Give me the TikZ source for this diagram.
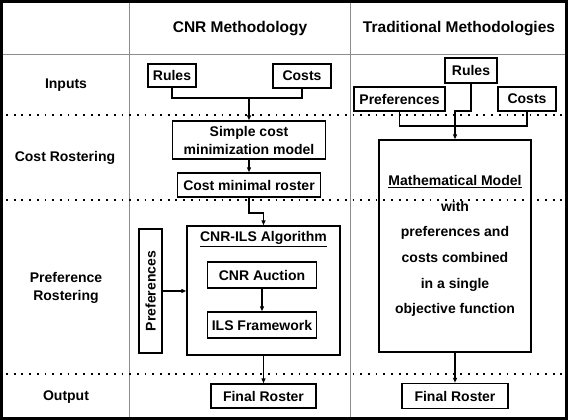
\documentclass[tikz,border=0pt]{standalone}
\usepackage{fontspec}
\setmainfont{Liberation Sans}
\usetikzlibrary{positioning,calc,arrows.meta}
\definecolor{gridgray}{HTML}{8C8C8C}

\begin{document}
\begin{tikzpicture}[x=1pt,y=-1pt,font=\fontsize{14}{18}\selectfont\bfseries,
    bx/.style={draw,line width=1.5pt,inner sep=2pt,align=center},
    arr/.style={line width=1.6pt,-{Triangle[length=5pt,width=4pt]}},
    ln/.style={line width=1.6pt},
    sep/.style={line width=1.8pt,dash pattern=on 1.8pt off 5.9pt},
    col/.style={draw=gridgray,line width=1.2pt}]
    \useasboundingbox (0,0) rectangle (568,420);
    \draw[col] (129.5,2) -- (129.5,418) (350.5,2) -- (350.5,418) (2,54.5) -- (566,54.5);
    \draw[sep] (6,115) -- (566,115) (6,200) -- (566,200) (6,374) -- (566,374);
    \draw[line width=2.5pt] (1.5,1.5) rectangle (566.5,418.5);
    \node[font=\fontsize{15.5}{19}\selectfont\bfseries] (hcnr) at (240,29) {CNR Methodology};
    \node[font=\fontsize{15.5}{19}\selectfont\bfseries] (htrad) at (459,29) {Traditional Methodologies};
    \node (lin) at (66,85) {Inputs};
    \node (lcost) at (65,158) {Cost Rostering};
    \node[align=center] (lpref) at (66,288) {Preference\\Rostering};
    \node (lout) at (66,397) {Output};
    \node[bx,minimum width=48pt,minimum height=23pt] (rulesA) at (172,75.5) {Rules};
    \node[bx,minimum width=58pt,minimum height=24pt] (costsA) at (302,76) {Costs};
    \node[bx,minimum width=153pt,minimum height=38pt] (simple) at (249,140) {Simple cost\\minimization model};
    \node[bx,minimum width=143pt,minimum height=24pt] (costmin) at (249,185) {Cost minimal roster};
    \node[bx,rotate=90,minimum width=124pt,minimum height=23pt] (prefA) at (150.5,291) {Preferences};
    \node[bx,minimum width=153pt,minimum height=129pt] (ils) at (263.5,290.5) {};
    \node (ilsT) at (263.5,239) {\underline{CNR-ILS Algorithm}};
    \node[bx,minimum width=109pt,minimum height=26pt] (auction) at (262,275) {CNR Auction};
    \node[bx,minimum width=109pt,minimum height=26pt] (frame) at (262,325) {ILS Framework};
    \node[bx,minimum width=105pt,minimum height=24pt] (finalA) at (263.5,396) {Final Roster};
    \node[bx,minimum width=52pt,minimum height=25pt] (rulesB) at (471,70.5) {Rules};
    \node[bx,minimum width=91pt,minimum height=24pt] (prefB) at (399.5,99) {Preferences};
    \node[bx,minimum width=58pt,minimum height=24pt] (costsB) at (527,99) {Costs};
    \node[bx,minimum width=152pt,minimum height=212pt,font=\fontsize{14}{25.6}\selectfont\bfseries] (model) at (455,246)
      {\underline{Mathematical Model}\\with\\preferences and\\costs combined\\in a single\\objective function};
    \node[bx,minimum width=106pt,minimum height=25pt] (finalB) at (455,396) {Final Roster};
    \coordinate (joinA) at (249,98);
    \coordinate (bendA) at (263.5,213);
    \coordinate (joinB) at (455,126);
    \coordinate (bendB) at (455,111);
    \draw[ln] (rulesA.south) |- (joinA) -| (costsA.south);
    \draw[arr] (joinA) -- (simple.north);
    \draw[arr] (simple) -- (costmin);
    \draw[arr] (costmin.south) |- (bendA) -- (ils.north);
    \draw[arr] (prefA) -- (prefA -| ils.west);
    \draw[arr] (auction) -- (frame);
    \draw[arr] (ils) -- (finalA);
    \draw[ln] (prefB.south) |- (joinB) -| (costsB.south);
    \draw[arr] (rulesB.south) |- (bendB) -- (model.north);
    \draw[arr] (model) -- (finalB);
\end{tikzpicture}
\end{document}
